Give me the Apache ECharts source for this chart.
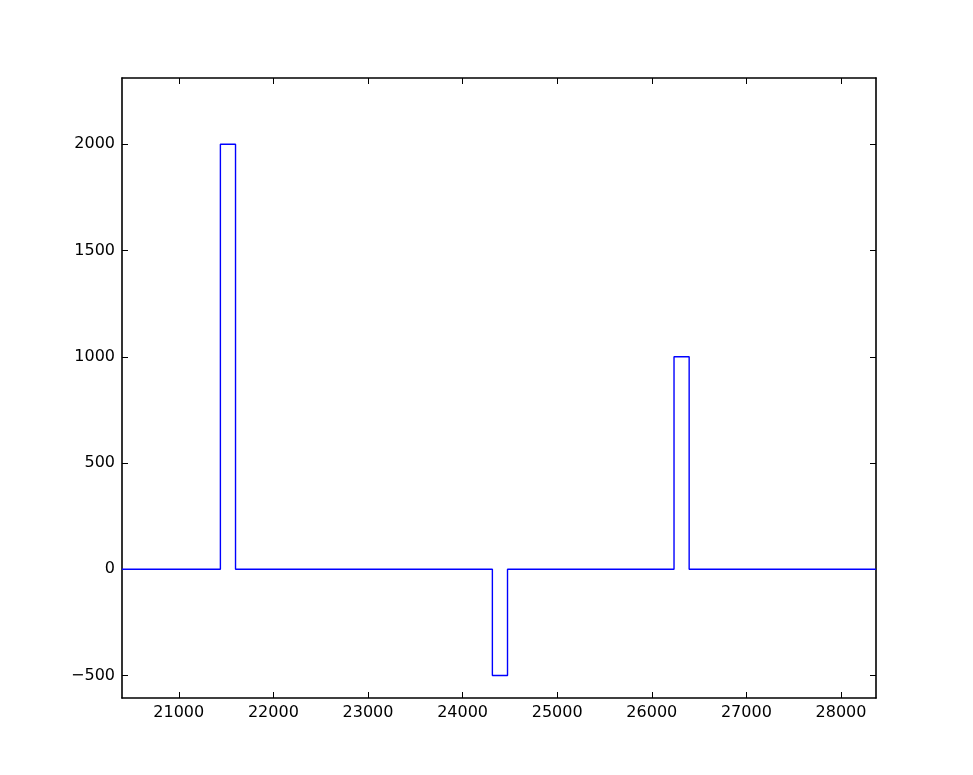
<!DOCTYPE html>
<html>
<head>
<meta charset="utf-8">
<script src="https://cdn.jsdelivr.net/npm/echarts@6/dist/echarts.min.js"></script>
<style>html,body{margin:0;padding:0;background:#fff;}#c{width:973px;height:775px;}</style>
</head>
<body>
<div id="c"></div>
<script>
// Step signal: x positions where the level changes, and the level from each point on
const xPoints = [20400, 21440, 21600, 24315, 24475, 26235, 26395, 28370];
const yLevels = [0, 2000, 0, -500, 0, 1000, 0, 0];
const xTicks = [21000, 22000, 23000, 24000, 25000, 26000, 27000, 28000];
const yTicks = [-500, 0, 500, 1000, 1500, 2000];
const xRange = [20400, 28370];
const yRange = [-606, 2312];

const data = xPoints.map((x, i) => [x, yLevels[i]]);
const font = 'DejaVu Sans';
const fmt = v => String(v).replace('-', '\u2212');

function xAx(pos, showLabel) {
  return {
    type: 'value', position: pos, min: xRange[0], max: xRange[1],
    axisLine: { show: true, onZero: false, lineStyle: { color: '#000', width: 1.6 } },
    axisTick: { show: true, inside: true, length: 6, customValues: xTicks, lineStyle: { color: '#000' } },
    axisLabel: { show: showLabel, customValues: xTicks, color: '#000', fontFamily: font, fontSize: 16, margin: 7, formatter: fmt },
    splitLine: { show: false }
  };
}
function yAx(pos, showLabel) {
  return {
    type: 'value', position: pos, min: yRange[0], max: yRange[1],
    axisLine: { show: true, onZero: false, lineStyle: { color: '#000', width: 1.6 } },
    axisTick: { show: true, inside: true, length: 6, customValues: yTicks, lineStyle: { color: '#000' } },
    axisLabel: { show: showLabel, customValues: yTicks, color: '#000', fontFamily: font, fontSize: 16, margin: 7, formatter: fmt },
    splitLine: { show: false }
  };
}

const chart = echarts.init(document.getElementById('c'), null, { renderer: 'canvas' });
chart.setOption({
  animation: false,
  backgroundColor: '#fff',
  grid: { left: 122, right: 97, top: 78, bottom: 77, containLabel: false },
  xAxis: [xAx('bottom', true), xAx('top', false)],
  yAxis: [yAx('left', true), yAx('right', false)],
  series: [{
    type: 'line', xAxisIndex: 0, yAxisIndex: 0,
    step: 'end', data: data, showSymbol: false, symbol: 'none',
    lineStyle: { color: '#0000ff', width: 1.4 }
  }]
});
</script>
</body>
</html>
